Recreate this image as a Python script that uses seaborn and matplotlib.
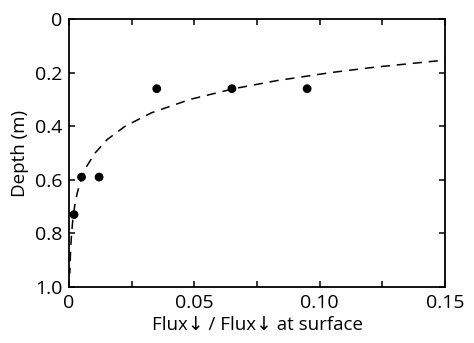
import numpy as np
import pandas as pd
import matplotlib
matplotlib.use("Agg")
import matplotlib.pyplot as plt
import seaborn as sns

# Measured points
obs_flux = [0.035, 0.065, 0.095, 0.005, 0.012, 0.002]
obs_depth = [0.26, 0.26, 0.26, 0.59, 0.59, 0.73]

# Dashed curve
curve_depth = [0.15, 0.18, 0.20, 0.23, 0.26, 0.30, 0.35, 0.40, 0.45, 0.50,
               0.55, 0.60, 0.65, 0.70, 0.75, 0.80, 0.85, 0.90, 0.95]
curve_flux = [0.1535, 0.1218, 0.1044, 0.0829, 0.0658, 0.0483, 0.0329, 0.0224,
              0.0152, 0.0104, 0.00705, 0.0048, 0.00326, 0.00222, 0.00151,
              0.00103, 0.0007, 0.00048, 0.00032]

x_ticks = [0, 0.025, 0.05, 0.075, 0.10, 0.125, 0.15]
x_labels = ["0", "", "0.05", "", "0.10", "", "0.15"]
y_ticks = [0, 0.2, 0.4, 0.6, 0.8, 1.0]
y_labels = ["0", "0.2", "0.4", "0.6", "0.8", "1.0"]

sns.set_theme(style="ticks")
plt.rcParams["font.family"] = ["Open Sans", "DejaVu Sans"]

fig = plt.figure(figsize=(4.74, 3.43), dpi=100)
ax = fig.add_axes([0.1456, 0.1633, 0.9388 - 0.1456, 0.9446 - 0.1633])

df_obs = pd.DataFrame({"flux": obs_flux, "depth": obs_depth})
df_curve = pd.DataFrame({"flux": curve_flux, "depth": curve_depth})

sns.lineplot(data=df_curve, x="flux", y="depth", sort=False, ax=ax,
             color="black", linewidth=1.1, dashes=False)
ax.lines[-1].set_dashes((6, 4.5))
sns.scatterplot(data=df_obs, x="flux", y="depth", ax=ax, color="black",
                s=40, edgecolor="none", zorder=3)

ax.set_xlim(0, 0.15)
ax.set_ylim(1.0, 0)
ax.set_xticks(x_ticks)
ax.set_xticklabels(x_labels)
ax.set_yticks(y_ticks)
ax.set_yticklabels(y_labels)
ax.tick_params(direction="in", length=4, width=1.1, top=True, right=True,
               labelsize=14, colors="black", pad=5)
for s in ax.spines.values():
    s.set_linewidth(1.3)
    s.set_color("black")
    s.set_visible(True)
ax.set_xlabel("Flux\u2193 / Flux\u2193 at surface", fontsize=13.5, labelpad=3,
              color="black")
ax.set_ylabel("Depth (m)", fontsize=13.5, labelpad=4, color="black")

fig.savefig("out.png", dpi=100)
